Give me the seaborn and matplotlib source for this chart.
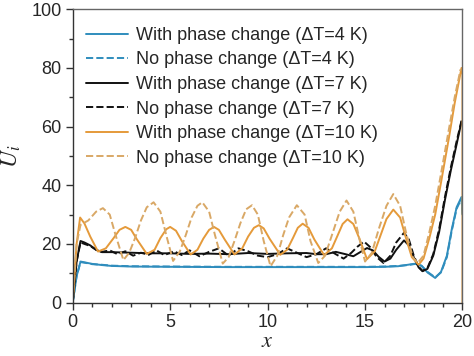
import numpy as np
import pandas as pd
import matplotlib
matplotlib.use("Agg")
import matplotlib.pyplot as plt
from matplotlib.ticker import MultipleLocator
import seaborn as sns

# ============================================================
# Data
# ============================================================

# dT = 4 K, with phase change
x_4_pc = [0, 0.2, 0.4, 0.7, 1.0, 1.5, 2.0, 3.0, 5.0, 8.0, 12.0, 15.0, 16.0,
          16.7, 17.2, 17.6, 17.9, 18.2, 18.6, 18.9, 19.2, 19.45, 19.7, 19.95, 20.0]
y_4_pc = [0, 9, 14, 13.6, 13.2, 12.8, 12.5, 12.3, 12.2, 12.1, 12.1, 12.1, 12.2,
          12.4, 12.9, 13.3, 12.5, 10.3, 8.4, 10.5, 16, 25, 32.5, 36, 30]

# dT = 4 K, no phase change
x_4_np = [0, 0.2, 0.4, 0.7, 1.0, 1.5, 2.0, 3.0, 5.0, 8.0, 12.0, 15.0, 16.0,
          16.7, 17.2, 17.6, 17.9, 18.2, 18.6, 18.9, 19.2, 19.45, 19.7, 19.95, 20.0]
y_4_np = [0, 9, 13.8, 13.5, 13.1, 12.9, 12.6, 12.4, 12.3, 12.2, 12.2, 12.2, 12.3,
          12.5, 12.8, 13.2, 12.6, 10.5, 8.6, 10.3, 15.5, 24.5, 32, 35.5, 30]

# dT = 7 K, with phase change
x_7_pc = [0, 0.2, 0.4, 0.6, 0.9, 1.2, 1.5, 2.0, 3.0, 4.0, 5.0, 6.0, 7.0, 8.0,
          9.0, 10.0, 11.0, 12.0, 12.5, 13.0, 13.5, 14.0, 14.4, 14.7, 15.1,
          15.4, 15.7, 16.0, 16.3, 16.6, 17.0, 17.25, 17.5, 17.75, 17.95, 18.2,
          18.5, 18.8, 19.1, 19.4, 19.7, 19.95]
y_7_pc = [0, 14, 21, 20.5, 19.5, 18.0, 17.2, 17.2, 17.0, 16.8, 16.8, 16.6,
          16.7, 16.5, 16.9, 16.6, 16.8, 16.9, 16.5, 16.5, 17.3, 16.5, 15.8,
          17.0, 18.6, 17.8, 15.6, 14.0, 15.0, 18.0, 21.2, 19.5, 15.5, 12.0,
          10.7, 11.5, 16, 24, 35, 45, 54, 61.7]

# dT = 7 K, no phase change
x_7_np = [0, 0.2, 0.4, 0.6, 0.9, 1.2, 1.5, 1.9, 2.3, 2.7, 3.1, 3.5, 3.9, 4.3,
          4.7, 5.2, 5.6, 6.0, 6.5, 7.0, 7.5, 8.0, 8.5, 9.0, 9.5, 10.0, 10.5,
          11.0, 11.5, 12.0, 12.5, 13.0, 13.5, 13.9, 14.3, 14.6, 14.95, 15.25,
          15.6, 15.95, 16.3, 16.6, 17.0, 17.25, 17.5, 17.75, 17.95, 18.2,
          18.5, 18.8, 19.1, 19.4, 19.7, 19.95]
y_7_np = [0, 14, 20.5, 20, 19.3, 18, 17.3, 17.8, 16.5, 17.5, 16, 17, 16.3,
          17.8, 16.2, 17.5, 16.2, 17.8, 15.8, 17.3, 18.5, 16, 18.5, 17.5, 16,
          15.5, 16.5, 18.5, 17, 15.5, 16.5, 18.5, 16.5, 15, 17, 19, 20.8, 19,
          15.5, 13.5, 16, 20.5, 23.8, 21.5, 16, 12.2, 10.8, 11.8, 16.5, 25,
          36, 46, 55, 62]

# dT = 10 K, with phase change
x_10_pc = [0, 0.2, 0.38, 0.6, 0.9, 1.3, 1.7, 2.1, 2.4, 2.7, 3.0, 3.3, 3.8,
           4.2, 4.5, 4.8, 5.0, 5.3, 5.6, 6.05, 6.4, 6.7, 7.0, 7.25, 7.5, 7.8,
           8.3, 8.7, 9.0, 9.3, 9.55, 9.8, 10.1, 10.65, 11.0, 11.3, 11.55,
           11.8, 12.1, 12.4, 12.9, 13.3, 13.6, 13.85, 14.1, 14.4, 14.7, 15.1,
           15.5, 15.8, 16.1, 16.45, 16.8, 17.1, 17.4, 17.75, 18.0, 18.3, 18.6,
           18.9, 19.3, 19.6, 19.95, 20.0, 20.0]
y_10_pc = [0, 20, 29, 27, 22.5, 17.4, 18.5, 22, 24.8, 25.8, 24.8, 21.5, 16.6,
           18, 22, 25, 25.8, 24.5, 21, 16.4, 18, 21.8, 24.8, 25.8, 24.8, 21.5,
           16.4, 18.5, 22.5, 25.5, 26.4, 25.3, 21.8, 16.3, 18, 22, 25.5, 26.9,
           25.5, 21.5, 16.2, 18.5, 23, 26.8, 28.4, 26.8, 22, 14.8, 17.5, 23,
           28.5, 31.7, 29, 22, 15.5, 12.9, 15, 22, 30, 41, 56, 68, 80, 78, 0]

# dT = 10 K, no phase change
x_10_np = [0, 0.2, 0.4, 0.8, 1.2, 1.55, 1.9, 2.2, 2.6, 2.9, 3.2, 3.5, 3.8,
           4.15, 4.5, 4.8, 5.15, 5.5, 5.8, 6.1, 6.4, 6.65, 7.0, 7.3, 7.7, 8.0,
           8.3, 8.6, 8.9, 9.2, 9.5, 9.8, 10.15, 10.5, 10.8, 11.1, 11.5, 11.9,
           12.2, 12.6, 12.95, 13.3, 13.7, 14.05, 14.4, 14.7, 15.0, 15.35,
           15.7, 16.1, 16.45, 16.8, 17.1, 17.45, 17.7, 18.0, 18.3, 18.6, 18.9,
           19.3, 19.6, 19.9]
y_10_np = [0, 20, 26.5, 28, 31, 32.2, 30, 23, 14.5, 17, 22, 28, 32.5, 34.2,
           31, 23, 14.2, 17.5, 23, 29, 33, 34.2, 31, 23, 13.3, 15.5, 21, 27,
           31.8, 33.2, 30, 21, 12.4, 16, 23, 29, 33.2, 30, 21, 13.5, 16, 23,
           31, 34.8, 31, 22, 14, 17, 25, 33, 37, 33, 24, 15.5, 13.5, 16, 24,
           33, 44, 59, 70, 79.5]

SERIES = [
    ("With phase change (\u0394T=4 K)", x_4_pc, y_4_pc, "#2f8dbd", "-"),
    ("No phase change (\u0394T=4 K)", x_4_np, y_4_np, "#2f8dbd", "--"),
    ("With phase change (\u0394T=7 K)", x_7_pc, y_7_pc, "#111111", "-"),
    ("No phase change (\u0394T=7 K)", x_7_np, y_7_np, "#111111", "--"),
    ("With phase change (\u0394T=10 K)", x_10_pc, y_10_pc, "#e59a3a", "-"),
    ("No phase change (\u0394T=10 K)", x_10_np, y_10_np, "#d9a866", "--"),
]

# ============================================================
# Plot
# ============================================================

sns.set_style("ticks")
plt.rcParams["font.family"] = ["Liberation Sans", "DejaVu Sans"]
plt.rcParams["mathtext.fontset"] = "stix"

fig = plt.figure(figsize=(4.74, 3.56), dpi=100)
ax = fig.add_axes([0.1534, 0.15, 0.8223, 0.824])

for label, xs, ys, color, style in SERIES:
    df = pd.DataFrame({"x": xs, "y": ys})
    line_kw = dict(dashes=(2.0, 1.5)) if style == "--" else {}
    sns.lineplot(
        data=df, x="x", y="y", ax=ax,
        sort=False, estimator=None,
        color=color, linewidth=1.4,
        linestyle=style, label=label,
        **line_kw
    )

ax.set_xlim(0, 20)
ax.set_ylim(0, 100)
ax.xaxis.set_major_locator(MultipleLocator(5))
ax.xaxis.set_minor_locator(MultipleLocator(1))
ax.yaxis.set_major_locator(MultipleLocator(20))
ax.yaxis.set_minor_locator(MultipleLocator(10))

ax.tick_params(which="major", direction="out", length=5, width=1,
               labelsize=13, color="#333333")
ax.tick_params(axis="x", which="major", pad=3)
ax.tick_params(axis="y", which="major", pad=3)
ax.tick_params(which="minor", direction="out", length=3, width=1,
               color="#333333")

for side in ["top", "right"]:
    ax.spines[side].set_visible(True)
    ax.spines[side].set_color("#666666")
for side in ["left", "bottom"]:
    ax.spines[side].set_color("#333333")
for spine in ax.spines.values():
    spine.set_linewidth(1)

ax.set_xlabel("$x$", fontsize=16, labelpad=0)
ax.set_ylabel("$U_i$", fontsize=17, labelpad=6)

leg = ax.legend(
    loc="upper left",
    bbox_to_anchor=(0.035, 0.94),
    frameon=False,
    fontsize=13,
    handlelength=2.3,
    handletextpad=0.45,
    labelspacing=0.42,
    borderaxespad=0,
    borderpad=0,
)

fig.savefig("out.png", dpi=100)
